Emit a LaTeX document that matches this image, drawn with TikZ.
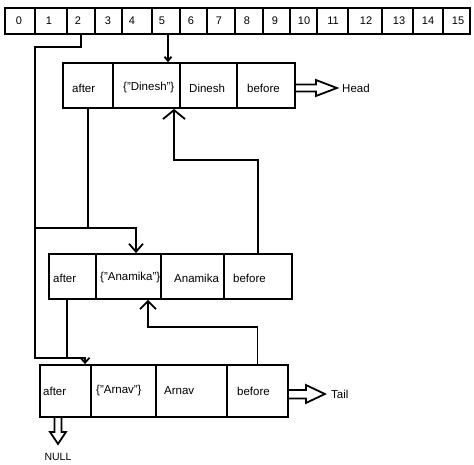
\documentclass[tikz,border=0pt]{standalone}
\usepackage{fontspec}
\setmainfont{Liberation Sans}
\usetikzlibrary{arrows.meta}
\tikzset{
  cellbox/.style={draw, line width=1.8pt, inner sep=0pt, minimum height=26pt},
  nodebox/.style={draw, line width=1.8pt, inner sep=0pt},
  lbl/.style={inner sep=0pt, anchor=west, font=\fontsize{11.5}{13}\selectfont},
  numlbl/.style={inner sep=0pt, font=\fontsize{11}{13}\selectfont},
  conn/.style={line width=1.8pt},
  blockarrow/.style={line width=1.8pt, line join=miter},
}
\begin{document}
\begin{tikzpicture}[x=1pt,y=-1pt]
\useasboundingbox (0,0) rectangle (474,464);
% index array
\foreach \i/\l/\r/\t in {0/5/35/19,1/35/67/49,2/67/95/78,3/95/122/108,4/122/152/132,5/152/180/162,6/180/207/191,7/207/235/219,8/235/263/247,9/263/290/275,10/290/317/304,11/317/348/333,12/348/382/366,13/382/413/399,14/413/443/428,15/443/470/458}{
  \node[numlbl] (n\i) at (\t,21) {\i};
  \node[cellbox, minimum width={(\r-\l)*1pt}] (c\i) at ({(\l+\r)/2},21) {};
}
% Dinesh node
\node[lbl] (td1) at (72,88) {after};
\node[lbl] (td2) at (123,88) {\{"Dinesh"\}};
\node[lbl] (td3) at (189,88) {Dinesh};
\node[lbl] (td4) at (247,88) {before};
\node[nodebox, minimum width=50pt, minimum height=45pt] (d1) at (88,85.5) {};
\node[nodebox, minimum width=67pt, minimum height=45pt] (d2) at (146.5,85.5) {};
\node[nodebox, minimum width=57pt, minimum height=45pt] (d3) at (208.5,85.5) {};
\node[nodebox, minimum width=58pt, minimum height=45pt] (d4) at (266,85.5) {};
% Anamika node
\node[lbl] (ta1) at (53,278) {after};
\node[lbl] (ta2) at (100,278) {\{"Anamika"\}};
\node[lbl] (ta3) at (174,278) {Anamika};
\node[lbl] (ta4) at (233,278) {before};
\node[nodebox, minimum width=47pt, minimum height=45pt] (a1) at (72.5,276.5) {};
\node[nodebox, minimum width=65pt, minimum height=45pt] (a2) at (128.5,276.5) {};
\node[nodebox, minimum width=63pt, minimum height=45pt] (a3) at (192.5,276.5) {};
\node[nodebox, minimum width=68pt, minimum height=45pt] (a4) at (258,276.5) {};
% Arnav node
\node[lbl] (tr1) at (43,391) {after};
\node[lbl] (tr2) at (96,391) {\{"Arnav"\}};
\node[lbl] (tr3) at (164,391) {Arnav};
\node[lbl] (tr4) at (237,391) {before};
\node[nodebox, minimum width=51pt, minimum height=52pt] (r1) at (65.5,391) {};
\node[nodebox, minimum width=65pt, minimum height=52pt] (r2) at (123.5,391) {};
\node[nodebox, minimum width=71pt, minimum height=52pt] (r3) at (191.5,391) {};
\node[nodebox, minimum width=61pt, minimum height=52pt] (r4) at (257.5,391) {};
% labels
\node[lbl] (head) at (342,88) {Head};
\node[lbl] (tail) at (331,394) {Tail};
\node[numlbl, font=\fontsize{10.5}{12}\selectfont] (null) at (58,457) {NULL};
% junction coordinates
\coordinate (j1) at (35,47);
\coordinate (j2) at (85,358);
\coordinate (j3) at (136,228);
\coordinate (j4) at (35,228);
\coordinate (j5) at (174,160);
\coordinate (j6) at (67,358);
\coordinate (j7) at (148,327);
\coordinate (j8) at (168,34);
% connectors
\draw[conn, -{Straight Barb[length=5pt,width=9pt]}] (c2.south) |- (j1) |- (j2) -- (j2 |- r1.north);
\draw[conn] (d1.south) -- (d1.south |- j3);
\draw[conn, -{Straight Barb[length=8pt,width=14pt]}] (j4) -- (j3) -- (j3 |- a2.north);
\draw[conn, -{Straight Barb[length=4pt,width=7pt]}] (j8) -- (j8 |- d2.north);
\draw[conn, -{Straight Barb[length=9pt,width=22pt]}] (a4.north) |- (j5) -- (j5 |- d2.south);
\draw[conn] (j6 |- a1.south) -- (j6);
\draw[conn, -{Straight Barb[length=8pt,width=16pt]}] (r4.north) |- (j7) -- (j7 |- a2.south);
% block arrows
\draw[blockarrow] (d4.east |- 0,84.5) -- ++(20,0) -- ++(0,-4.5) -- ++(21,8) -- ++(-21,8) -- ++(0,-4.5) -- (d4.east |- 0,91.5);
\draw[blockarrow] (r4.east |- 0,390) -- ++(17,0) -- ++(0,-5) -- ++(19,9) -- ++(-19,9) -- ++(0,-4.5) -- (r4.east |- 0,398.5);
\draw[blockarrow] (r1.south -| 54.5,0) -- ++(0,14) -- ++(-4.5,0) -- ++(8,12) -- ++(8,-12) -- ++(-4.5,0) -- (r1.south -| 61.5,0);
\end{tikzpicture}
\end{document}
